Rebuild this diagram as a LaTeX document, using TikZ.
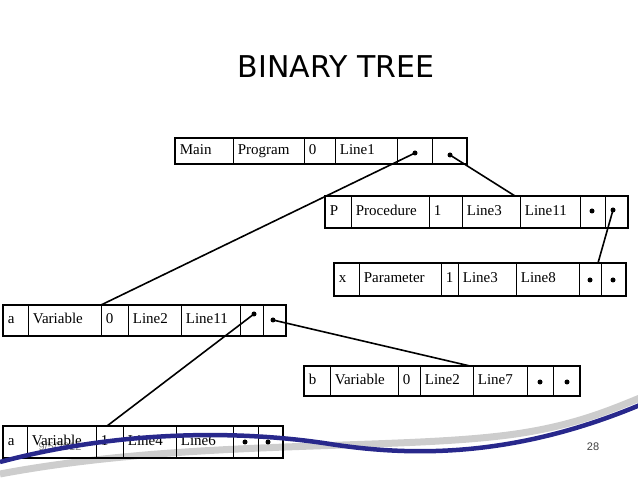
\documentclass[tikz,border=0pt]{standalone}
\usepackage{fontspec}
\setmainfont{Liberation Serif}
\newfontfamily\titlefont{DejaVu Sans}
\newfontfamily\footfont{Liberation Sans}
\definecolor{swblue}{RGB}{40,40,140}
\definecolor{swgrey}{RGB}{205,205,205}
\tikzset{
  cellbox/.style={draw, line width=0.6pt, inner sep=0pt, anchor=center},
  celltext/.style={anchor=west, inner sep=0pt, text height=10pt, text depth=3pt, font=\fontsize{15}{17}\selectfont},
  outerbox/.style={draw, line width=1.6pt},
  link/.style={line width=1.6pt},
  dotmark/.style={circle, fill=black, inner sep=0pt, minimum size=5pt},
}
% \recrow{name}{ytop}{ybot}{x1/x2/text,...}
\newcommand{\recrow}[4]{%
  \foreach \xa/\xb/\t [count=\i] in {#4} {
    \pgfmathsetmacro{\w}{\xb-\xa}
    \pgfmathsetmacro{\h}{#3-#2}
    \node[cellbox, minimum width=\w pt, minimum height=\h pt] (#1-\i) at ({(\xa+\xb)/2}, {(#2+#3)/2}) {};
    \node[celltext] (#1-\i-t) at ([xshift=5pt]#1-\i.west) {\t};
  }
}
\begin{document}
\begin{tikzpicture}[x=1pt,y=-1pt]
\useasboundingbox (0,0) rectangle (638,478);
% swoosh
\draw[swgrey, line width=7pt] (0,474) .. controls (180,440) and (380,450) .. (500,436) .. controls (570,428) and (610,410) .. (640,398);
\node[font=\titlefont\fontsize{30}{34}\selectfont] (title) at (336,67) {BINARY TREE};
\node[font=\footfont\fontsize{11}{13}\selectfont, text=gray] (date) at (60,447) {9/5/2012};
\node[font=\footfont\fontsize{11}{13}\selectfont, text=darkgray] (pg) at (593,447) {28};
\recrow{m}{138}{164}{175/233/Main,233/304/Program,304/335/0,335/397/Line1,397/432/,432/467/}
\draw[outerbox] (175,138) rectangle (467,164);
\recrow{p}{196}{228}{325/351/P,351/429/Procedure,429/462/1,462/520/Line3,520/580/Line11,580/605/,605/628/}
\draw[outerbox] (325,196) rectangle (628,228);
\recrow{x}{263}{296}{334/359/x,359/441/Parameter,441/458/1,458/516/Line3,516/579/Line8,579/601/,601/626/}
\draw[outerbox] (334,263) rectangle (626,296);
\recrow{a}{305}{336}{3/28/a,28/101/Variable,101/128/0,128/181/Line2,181/240/Line11,240/263/,263/286/}
\draw[outerbox] (3,305) rectangle (286,336);
\recrow{b}{366}{396}{304/330/b,330/398/Variable,398/420/0,420/473/Line2,473/527/Line7,527/553/,553/580/}
\draw[outerbox] (304,366) rectangle (580,396);
\recrow{c}{426}{458}{3/27/a,27/96/Variable,96/123/1,123/176/Line4,176/233/Line6,233/258/,258/283/}
\draw[outerbox] (3,426) rectangle (283,458);
\draw[swblue, line width=4.5pt] (0,462) .. controls (120,430) and (240,430) .. (330,444) .. controls (420,458) and (520,455) .. (640,405);
% dots
\node[dotmark] (m5d) at (415,153) {};
\node[dotmark] (m6d) at (450,155) {};
\node[dotmark] (p6d) at (592,211) {};
\node[dotmark] (p7d) at (613,210) {};
\node[dotmark] (x6d) at (590,280) {};
\node[dotmark] (x7d) at (613,280) {};
\node[dotmark] (a6d) at (254,314) {};
\node[dotmark] (a7d) at (273,320) {};
\node[dotmark] (b6d) at (540,382) {};
\node[dotmark] (b7d) at (567,382) {};
\node[dotmark] (c6d) at (245,442) {};
\node[dotmark] (c7d) at (268,442) {};
\coordinate (atop) at (101,305);
\coordinate (ptop) at (515,196);
\coordinate (xtop) at (598,263);
\coordinate (ctop) at (107,426);
\coordinate (btop) at (470,366);
\draw[link] (m5d.center) -- (atop);
\draw[link] (m6d.center) -- (ptop);
\draw[link] (p7d.center) -- (xtop);
\draw[link] (a6d.center) -- (ctop);
\draw[link] (a7d.center) -- (btop);
\end{tikzpicture}
\end{document}
